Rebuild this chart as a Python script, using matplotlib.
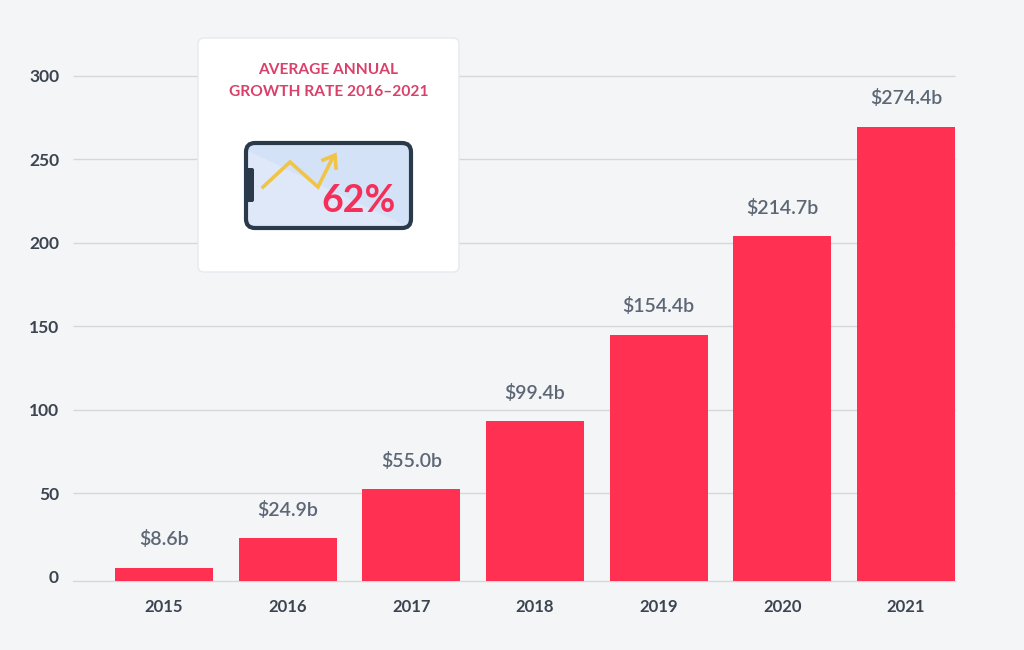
import matplotlib
matplotlib.use("Agg")
import matplotlib.pyplot as plt
from matplotlib.patches import FancyBboxPatch, Polygon

years = ["2015", "2016", "2017", "2018", "2019", "2020", "2021"]
bar_tops = [5.3, 22.9, 52.4, 93.2, 144.8, 204.0, 269.5]
value_labels = ["$8.6b", "$24.9b", "$55.0b", "$99.4b", "$154.4b", "$214.7b", "$274.4b"]
y_ticks = [0, 50, 100, 150, 200, 250, 300]
floor = -2.4

BG = "#f3f5f7"
RED = "#ff3052"
plt.rcParams['font.family'] = ['Lato', 'DejaVu Sans']

W, H = 1024, 650
fig = plt.figure(figsize=(W / 100, H / 100), dpi=100, facecolor=BG)
L, R, T, B = 73, 955, 76, 580.5
ax = fig.add_axes([L / W, 1 - B / H, (R - L) / W, (B - T) / H], facecolor=BG)
x = list(range(len(years)))
ax.set_xlim(-0.736, 6.396)
ax.set_ylim(floor, 300)
for s in ax.spines.values():
    s.set_visible(False)
ax.hlines(y_ticks[1:], -0.736, 6.396, color="#d5d7db", lw=1.0, zorder=1, clip_on=False)
ax.axhline(floor, color="#d5d7db", lw=1.0, zorder=1, clip_on=False)
ax.bar(x, [t - floor for t in bar_tops], bottom=floor, width=0.792, color=RED, zorder=3)
ax.set_xticks(x, years)
ax.set_yticks(y_ticks)
ax.tick_params(axis="y", length=0, pad=10, labelsize=12.5, labelcolor="#3c4450")
ax.tick_params(axis="x", length=0, pad=13.5, labelsize=12, labelcolor="#3c4450")
for lab in ax.get_xticklabels() + ax.get_yticklabels():
    lab.set_fontweight("bold")
for i, (h, s) in enumerate(zip(bar_tops, value_labels)):
    ax.annotate(s, (i, h), xytext=(0, 14), textcoords="offset points", ha="center", va="bottom",
                fontsize=14, color="#5c6675", fontweight=600, zorder=4)

# inset card, in pixel coordinates
ov = fig.add_axes([0, 0, 1, 1], facecolor="none")
ov.set_xlim(0, W)
ov.set_ylim(H, 0)
ov.axis("off")
ov.add_patch(FancyBboxPatch((202, 42), 253, 226, boxstyle="round,pad=4,rounding_size=6",
                            fc="white", ec="#e6e9ee", lw=1, zorder=1))
ov.text(328.5, 69.5, "AVERAGE ANNUAL", ha="center", va="center", fontsize=11.2, fontweight="bold", color="#d9416a", zorder=2)
ov.text(328.5, 91.5, "GROWTH RATE 2016–2021", ha="center", va="center", fontsize=11.2, fontweight="bold", color="#d9416a", zorder=2)

# phone
screen = FancyBboxPatch((254, 151), 149, 69, boxstyle="round,pad=8,rounding_size=8",
                        fc="#d4e2f7", ec="none", zorder=2)
ov.add_patch(screen)
light = Polygon([(246, 150), (246, 228), (411, 228)], fc="#deE8f9", ec="none", zorder=2.1)
ov.add_patch(light)
light.set_clip_path(screen)
ov.add_patch(FancyBboxPatch((254, 151), 149, 69, boxstyle="round,pad=8,rounding_size=9",
                            fc="none", ec="#2b3a4b", lw=3, zorder=3))
ov.add_patch(FancyBboxPatch((247, 170), 5, 30, boxstyle="round,pad=2,rounding_size=2",
                            fc="#2b3a4b", ec="none", zorder=3))
ov.plot([263, 290, 318, 333], [187, 162, 187, 157], color="#f0c446", lw=2.6, zorder=4, solid_joinstyle="miter")
ov.plot([323, 335, 336], [160, 155, 168], color="#f0c446", lw=2.6, zorder=4, solid_joinstyle="miter")
ov.text(358.5, 201.5, "62%", ha="center", va="center", fontsize=27, fontweight="bold", color="#f4305a", zorder=5)

fig.savefig("out.png", dpi=100, facecolor=BG)
